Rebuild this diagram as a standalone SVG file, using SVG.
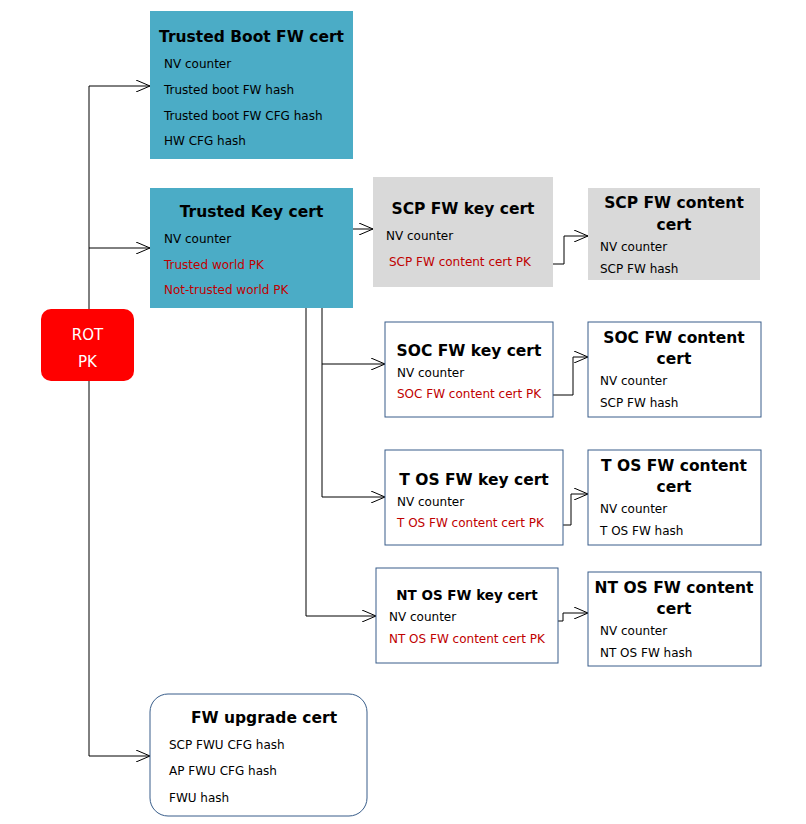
<svg xmlns="http://www.w3.org/2000/svg" width="806" height="824" viewBox="0 0 806 824">
<defs>
<marker id="ah" markerWidth="16" markerHeight="12" refX="14" refY="6" orient="auto" markerUnits="userSpaceOnUse">
<path d="M0,0 L14,6 L0,12" fill="none" stroke="#000" stroke-width="1"/>
</marker>
<style>
text{font-family:"DejaVu Sans",Verdana,sans-serif;font-size:12px;fill:#000}
.t{font-weight:bold;font-size:15.5px;text-anchor:middle}
.r{fill:#C00000}
.teal{fill:#4BACC6}
.grey{fill:#D9D9D9}
.wb{fill:#fff;stroke:#385D8A;stroke-width:1}
.c{fill:none;stroke:#000;stroke-width:1}
</style>
</defs>
<rect width="806" height="824" fill="#fff"/>
<g id="connectors">
<path class="c" d="M89,86 V756"/>
<path class="c" d="M89,86 H150" marker-end="url(#ah)"/>
<path class="c" d="M89,248 H150" marker-end="url(#ah)"/>
<path class="c" d="M89,756 H150" marker-end="url(#ah)"/>
<path class="c" d="M290,264 H332 V229 H373" marker-end="url(#ah)"/>
<path class="c" d="M322,264 V497 H385" marker-end="url(#ah)"/>
<path class="c" d="M322,364 H385" marker-end="url(#ah)"/>
<path class="c" d="M306,290 V616 H376" marker-end="url(#ah)"/>
<path class="c" d="M553,264 H564 V236 H588" marker-end="url(#ah)"/>
<path class="c" d="M553,395 H573 V357 H588" marker-end="url(#ah)"/>
<path class="c" d="M563,525 H571 V494 H588" marker-end="url(#ah)"/>
<path class="c" d="M558,621 H563 V613 H588" marker-end="url(#ah)"/>
</g>
<g id="rot"><rect x="41" y="309" width="93" height="72" rx="10" fill="#FF0000"/>
<text x="87.5" y="340" style="fill:#fff;font-size:15px;text-anchor:middle">ROT</text>
<text x="87.5" y="367" style="fill:#fff;font-size:15px;text-anchor:middle">PK</text></g>
<g id="tbfw"><rect class="teal" x="150" y="11" width="203" height="148"/>
<text class="t" x="251.5" y="42">Trusted Boot FW cert</text>
<text x="164" y="68">NV counter</text>
<text x="164" y="94">Trusted boot FW hash</text>
<text x="164" y="120">Trusted boot FW CFG hash</text>
<text x="164" y="145">HW CFG hash</text></g>
<g id="tkey"><rect class="teal" x="150" y="188" width="203" height="120"/>
<text class="t" x="251.5" y="217">Trusted Key cert</text>
<text x="164" y="243">NV counter</text>
<text class="r" x="164" y="269">Trusted world PK</text>
<text class="r" x="164" y="294">Not-trusted world PK</text></g>
<g id="scpkey"><rect class="grey" x="373" y="177" width="180" height="110"/>
<text class="t" x="463" y="214">SCP FW key cert</text>
<text x="386" y="240">NV counter</text>
<text class="r" x="389" y="266">SCP FW content cert PK</text></g>
<g id="scpcont"><rect class="grey" x="588" y="188" width="172" height="92"/>
<text class="t" x="674" y="208">SCP FW content</text>
<text class="t" x="674" y="230">cert</text>
<text x="600" y="251">NV counter</text>
<text x="600" y="273">SCP FW hash</text></g>
<g id="sockey"><rect class="wb" x="385" y="322" width="168" height="95"/>
<text class="t" x="469" y="356">SOC FW key cert</text>
<text x="397" y="377">NV counter</text>
<text class="r" x="397" y="398">SOC FW content cert PK</text></g>
<g id="soccont"><rect class="wb" x="588" y="322" width="173" height="95"/>
<text class="t" x="674" y="343">SOC FW content</text>
<text class="t" x="674" y="364">cert</text>
<text x="600" y="385">NV counter</text>
<text x="600" y="407">SCP FW hash</text></g>
<g id="toskey"><rect class="wb" x="385" y="450" width="178" height="95"/>
<text class="t" x="474" y="485">T OS FW key cert</text>
<text x="397" y="506">NV counter</text>
<text class="r" x="397" y="527">T OS FW content cert PK</text></g>
<g id="toscont"><rect class="wb" x="588" y="450" width="173" height="95"/>
<text class="t" x="674" y="471">T OS FW content</text>
<text class="t" x="674" y="492">cert</text>
<text x="600" y="513">NV counter</text>
<text x="600" y="535">T OS FW hash</text></g>
<g id="ntoskey"><rect class="wb" x="376" y="568" width="182" height="95"/>
<text class="t" x="467" y="600" style="font-size:13.5px">NT OS FW key cert</text>
<text x="389" y="621">NV counter</text>
<text class="r" x="389" y="643">NT OS FW content cert PK</text></g>
<g id="ntoscont"><rect class="wb" x="588" y="572" width="173" height="94"/>
<text class="t" x="674" y="593">NT OS FW content</text>
<text class="t" x="674" y="614">cert</text>
<text x="600" y="635">NV counter</text>
<text x="600" y="657">NT OS FW hash</text></g>
<g id="fwu"><rect class="wb" x="150" y="694" width="217" height="122" rx="18"/>
<text class="t" x="264" y="723">FW upgrade cert</text>
<text x="169" y="749">SCP FWU CFG hash</text>
<text x="169" y="775">AP FWU CFG hash</text>
<text x="169" y="802">FWU hash</text></g>
</svg>
